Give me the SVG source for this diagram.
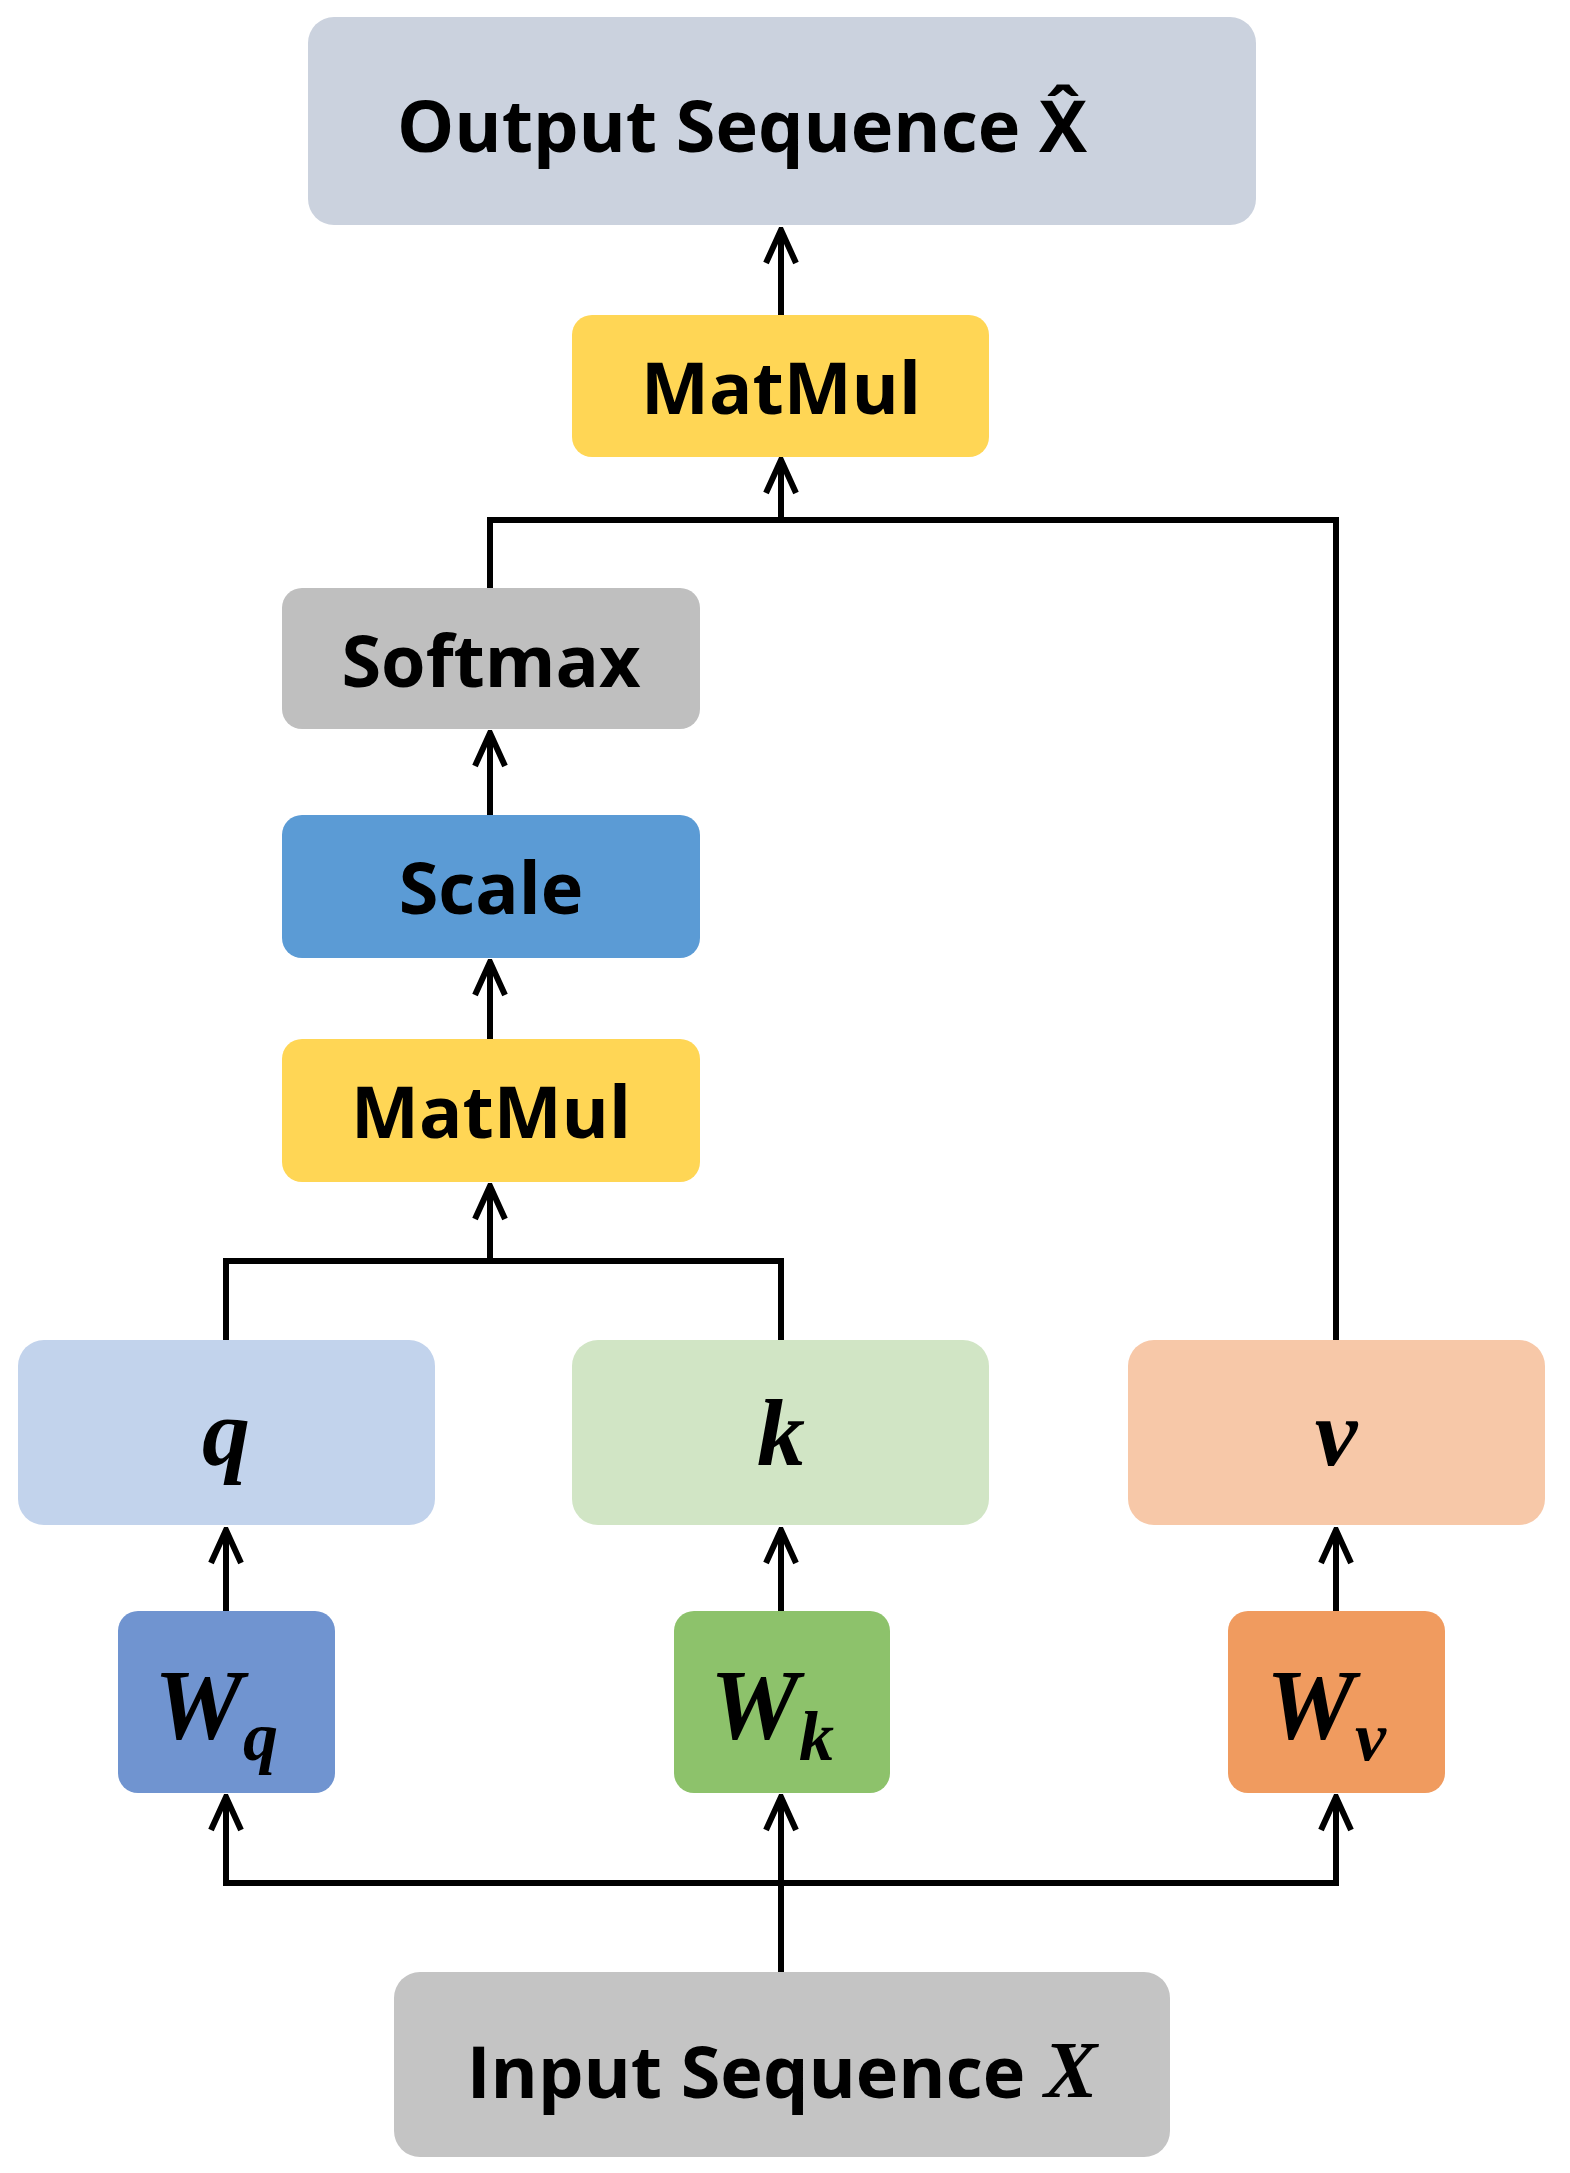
<svg xmlns="http://www.w3.org/2000/svg" width="1570" height="2173" viewBox="0 0 1570 2173">
<style>
.t{font-family:"Open Sans","Liberation Sans",sans-serif;font-weight:bold;font-size:72px;fill:#000;text-anchor:middle;dominant-baseline:central}
.m{font-family:"Liberation Serif","DejaVu Serif",serif;font-weight:bold;font-style:italic;fill:#000;text-anchor:middle}
.c{fill:none;stroke:#000;stroke-width:6}
</style>
<defs><marker id="a" viewBox="0 0 20 20" refX="10" refY="2" markerWidth="20" markerHeight="20" markerUnits="userSpaceOnUse" orient="auto-start-reverse"><path d="M2,18 L10,2 L18,18" fill="none" stroke="#000" stroke-width="4"/></marker>
<marker id="b" viewBox="0 0 40 40" refX="20" refY="3" markerWidth="40" markerHeight="40" markerUnits="userSpaceOnUse" orient="0"><path d="M5,36 L20,3 L35,36" fill="none" stroke="#000" stroke-width="6"/></marker></defs>
<g id="connectors">
<path class="c" d="M781,315 V230" marker-end="url(#b)"/>
<path class="c" d="M490,588 V520 H1336 V1340 M781,520 V460" marker-end="url(#b)"/>
<path class="c" d="M490,815 V733" marker-end="url(#b)"/>
<path class="c" d="M490,1039 V962" marker-end="url(#b)"/>
<path class="c" d="M226,1340 V1261 H781 V1340 M490,1261 V1186" marker-end="url(#b)"/>
<path class="c" d="M226,1611 V1530" marker-end="url(#b)"/>
<path class="c" d="M781,1611 V1530" marker-end="url(#b)"/>
<path class="c" d="M1336,1611 V1530" marker-end="url(#b)"/>
<path class="c" d="M781,1972 V1797" marker-end="url(#b)"/>
<path class="c" d="M226,1797 V1883 H1336 V1797"/>
<path class="c" d="M226,1883 V1797" marker-end="url(#b)"/>
<path class="c" d="M1336,1883 V1797" marker-end="url(#b)"/>
</g>
<g id="output"><rect x="308" y="17" width="948" height="208" rx="26" fill="#cbd2de"/><text class="t" x="742" y="124">Output Sequence X̂</text></g>
<g id="matmul1"><rect x="572" y="315" width="417" height="142" rx="20" fill="#ffd655"/><text class="t" x="781" y="386">MatMul</text></g>
<g id="softmax"><rect x="282" y="588" width="418" height="141" rx="20" fill="#bfbfbf"/><text class="t" x="491" y="659">Softmax</text></g>
<g id="scale"><rect x="282" y="815" width="418" height="143" rx="20" fill="#5b9bd5"/><text class="t" x="491" y="886">Scale</text></g>
<g id="matmul2"><rect x="282" y="1039" width="418" height="143" rx="20" fill="#ffd655"/><text class="t" x="491" y="1110">MatMul</text></g>
<g id="q"><rect x="18" y="1340" width="417" height="185" rx="26" fill="#c2d3ec"/><text class="m" x="226" y="1465" font-size="96">q</text></g>
<g id="k"><rect x="572" y="1340" width="417" height="185" rx="26" fill="#d1e5c5"/><text class="m" x="781" y="1465" font-size="96">k</text></g>
<g id="v"><rect x="1128" y="1340" width="417" height="185" rx="26" fill="#f7c8a8"/><text class="m" x="1336" y="1465" font-size="96">v</text></g>
<g id="Wq"><rect x="118" y="1611" width="217" height="182" rx="20" fill="#7094d0"/><text class="m" x="216" y="1738" font-size="100">W<tspan font-size="70" dy="22">q</tspan></text></g>
<g id="Wk"><rect x="674" y="1611" width="216" height="182" rx="20" fill="#8dc26b"/><text class="m" x="772" y="1738" font-size="100">W<tspan font-size="70" dy="22">k</tspan></text></g>
<g id="Wv"><rect x="1228" y="1611" width="217" height="182" rx="20" fill="#f09b5f"/><text class="m" x="1326" y="1738" font-size="100">W<tspan font-size="70" dy="22">v</tspan></text></g>
<g id="input"><rect x="394" y="1972" width="776" height="185" rx="26" fill="#c4c4c4"/><text class="t" x="782" y="2070">Input Sequence <tspan font-family="Liberation Serif,serif" font-style="italic" font-size="80">X</tspan></text></g>
</svg>
